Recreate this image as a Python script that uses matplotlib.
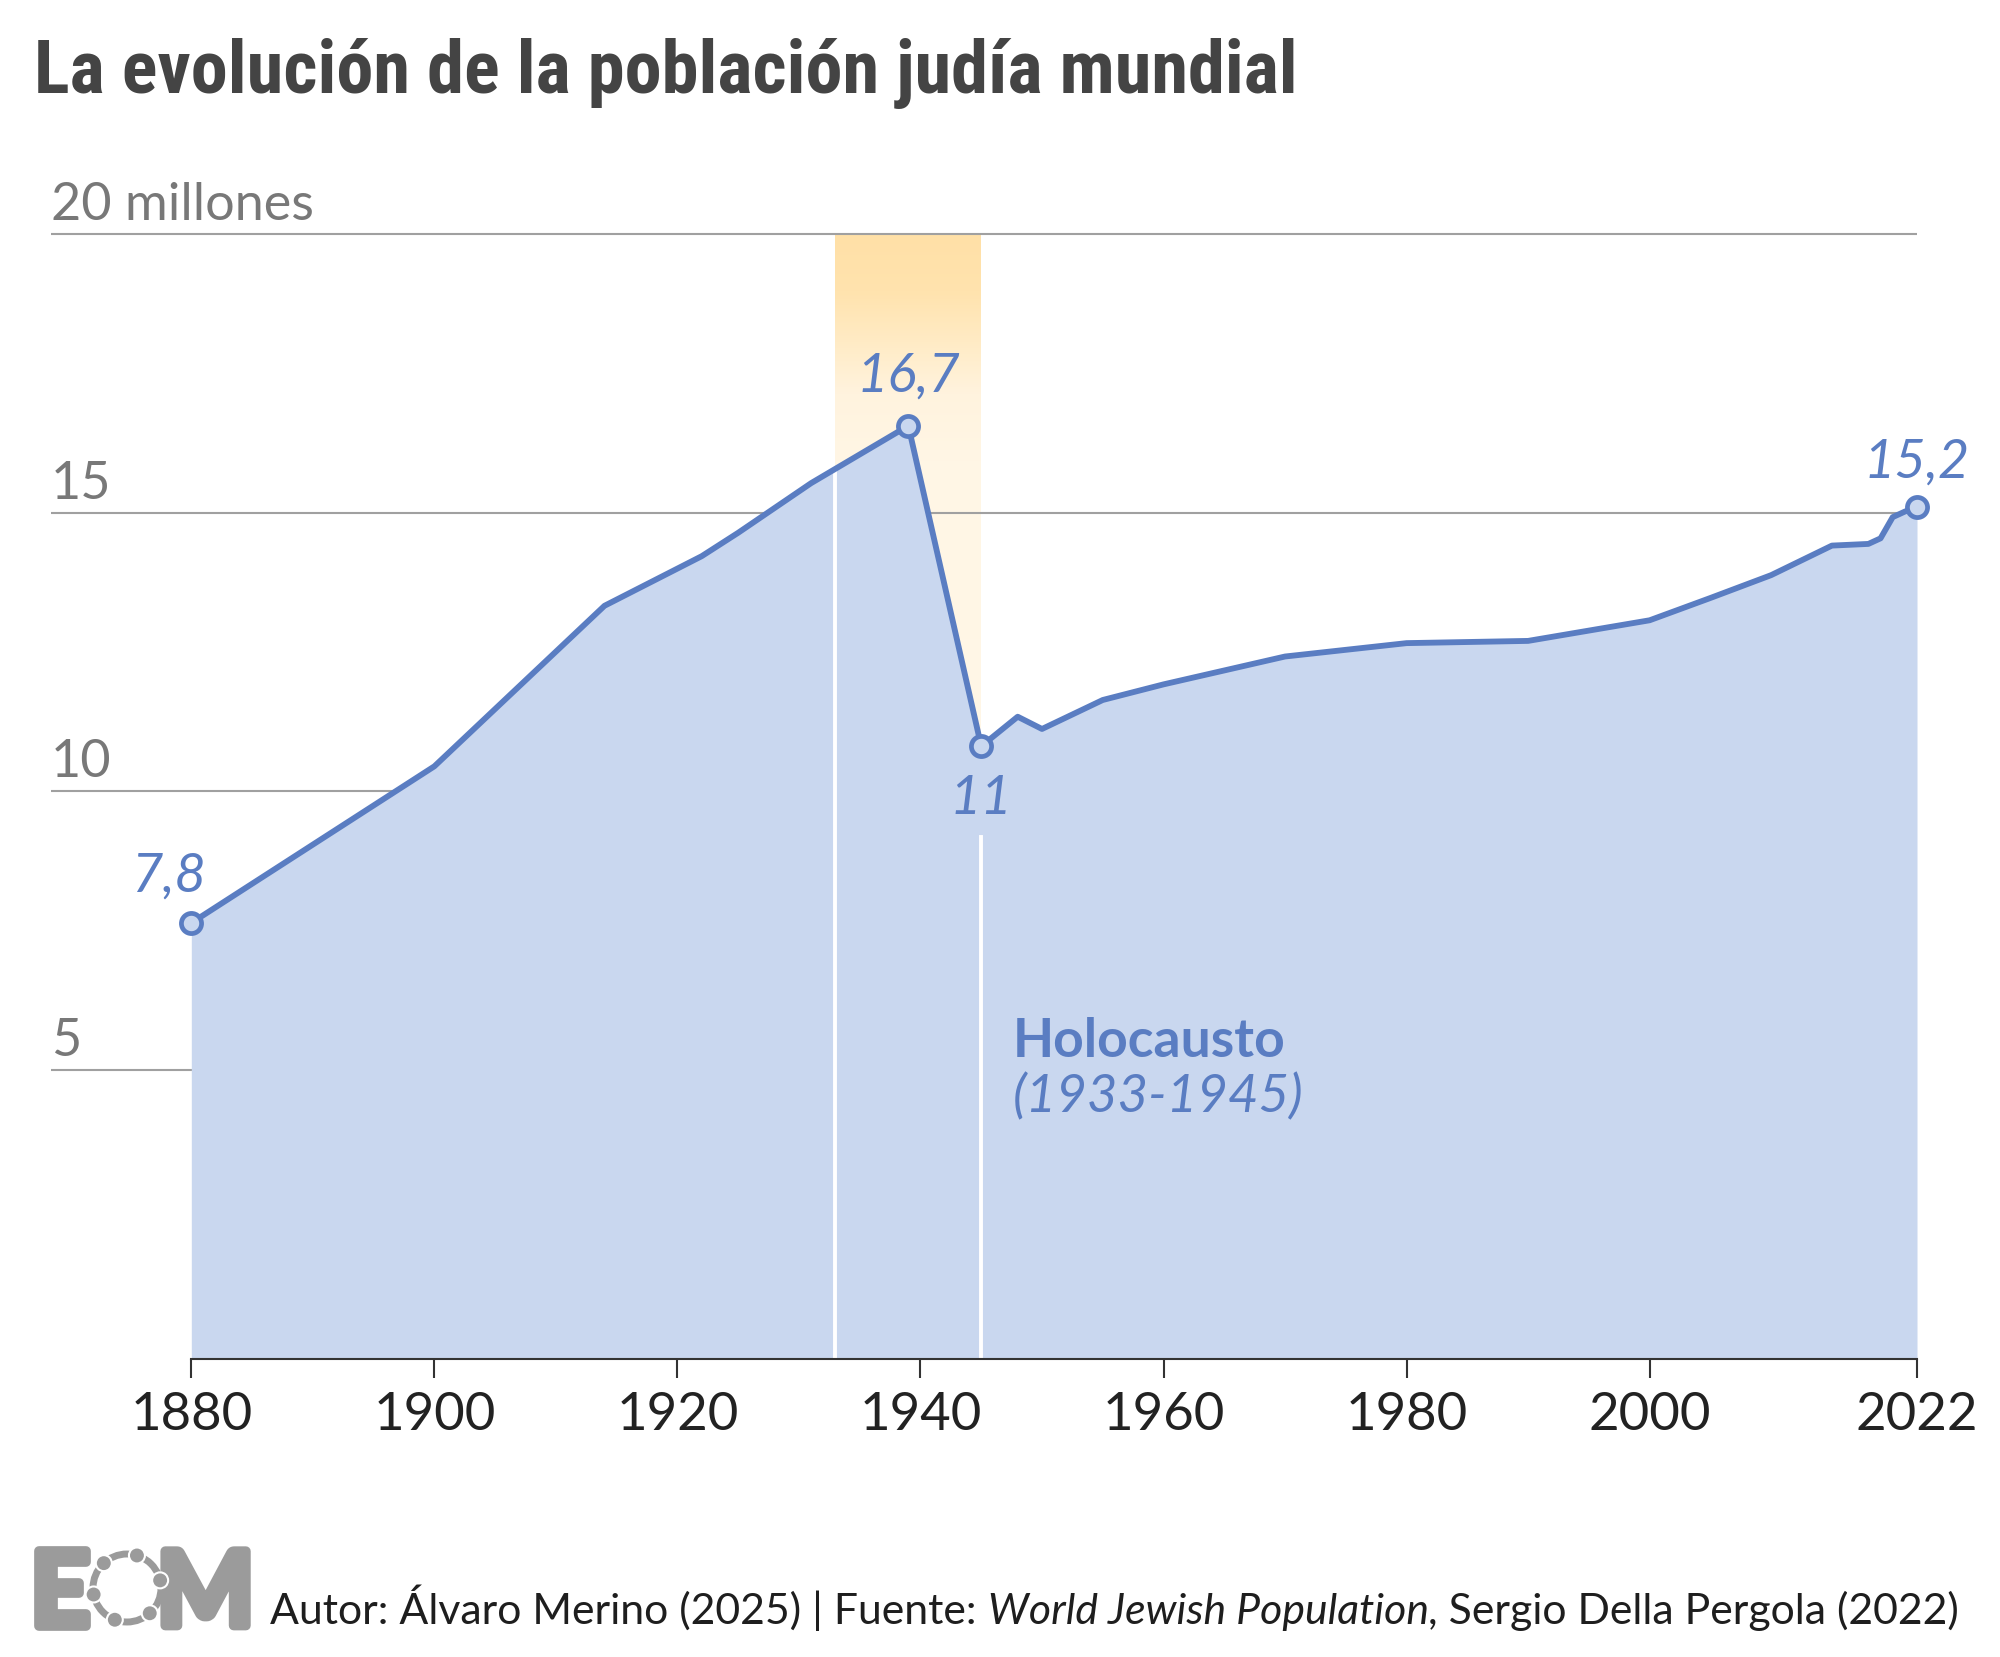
import matplotlib
matplotlib.use("Agg")
import matplotlib.pyplot as plt
import matplotlib.patheffects as pe
import numpy as np
from matplotlib import font_manager as fm
from matplotlib.colors import LinearSegmentedColormap
from matplotlib.patches import Circle

# ---------------- data ----------------
years = [1880, 1900, 1914, 1922, 1925, 1931, 1939, 1945, 1948, 1950, 1955, 1960,
         1970, 1980, 1990, 2000, 2005, 2010, 2015, 2018, 2019, 2020, 2021, 2022]
population = [7.64, 10.45, 13.33, 14.22, 14.64, 15.53, 16.56, 10.81, 11.34, 11.12,
              11.64, 11.92, 12.42, 12.66, 12.70, 13.07, 13.47, 13.88, 14.41, 14.44,
              14.54, 14.92, 15.02, 15.10]
highlight_years = [1880, 1939, 1945, 2022]
highlight_labels = ["7,8", "16,7", "11", "15,2"]
x_ticks = [1880, 1900, 1920, 1940, 1960, 1980, 2000, 2022]
y_grid = [5, 10, 15, 20]
y_grid_labels = ["5", "10", "15", "20 millones"]
holocaust_period = [1933, 1945]
title = "La evolución de la población judía mundial"
event_name = "Holocausto"
event_years = "(1933-1945)"
footer_parts = ["Autor: Álvaro Merino (2025) | Fuente: ",
                "World Jewish Population",
                ", Sergio Della Pergola (2022)"]
footer_styles = ["normal", "italic", "normal"]


def available(name):
    try:
        fm.findfont(fm.FontProperties(family=name), fallback_to_default=False)
        return True
    except Exception:
        return False


BASE = "Lato" if available("Lato") else "DejaVu Sans"
TITLE_FONT = next((f for f in ["Liberation Sans Narrow", "Roboto Condensed",
                               "Open Sans Condensed"] if available(f)), BASE)
plt.rcParams["font.family"] = [BASE, "DejaVu Sans"]

LINE = "#5A7DC2"
AREA = "#C9D7EF"
GRID = "#A0A0A0"
GRAYTXT = "#787878"
LOGO = "#9B9B9B"

W, H = 2000, 1657
fig = plt.figure(figsize=(W / 100, H / 100), dpi=100)
fig.patch.set_facecolor("white")

# axes in pixel layout
x0, x1 = 191.3, 1917.0
ytop, ybase = 234.0, 1359.0
ax = fig.add_axes([x0 / W, 1 - ybase / H, (x1 - x0) / W, (ybase - ytop) / H])
ybot = -0.183
ax.set_facecolor("none")

# Holocaust band with vertical gradient
cmap = LinearSegmentedColormap.from_list(
    "holo",
    [(0.0, "#FFF8EA"), (0.80, "#FFF6E5"), (0.86, "#FFF3DE"),
     (0.90, "#FFECC8"), (0.95, "#FFE3AE"), (1.0, "#FFE0A7")])
grad = np.linspace(0, 1, 512).reshape(-1, 1)
ax.imshow(grad, cmap=cmap, origin="lower", aspect="auto",
          extent=[holocaust_period[0], holocaust_period[1], ybot, 20],
          zorder=1, interpolation="bicubic")
ax.set_xlim(years[0], years[-1])
ax.set_ylim(ybot, 20)

# grid lines + labels
gx0 = (51 - x0) / (x1 - x0)
ytrans = ax.get_yaxis_transform()
for v, lab in zip(y_grid, y_grid_labels):
    ax.plot([gx0, 1], [v, v], transform=ytrans, color=GRID, lw=1.5,
            clip_on=False, zorder=2, solid_capstyle="butt")
    ax.text(gx0, v + 0.25, lab, transform=ytrans, fontsize=37.5, color=GRAYTXT,
            ha="left", va="baseline")

# area + line
ax.fill_between(years, population, ybot, color=AREA, lw=0, zorder=3)
ax.plot([holocaust_period[0]] * 2,
        [ybot, np.interp(holocaust_period[0], years, population)],
        color="white", lw=2.8, zorder=4)
ax.plot([holocaust_period[1]] * 2, [ybot, 9.19], color="white", lw=2.8, zorder=4)
ax.plot(years, population, color=LINE, lw=4.2, zorder=5,
        solid_joinstyle="round", solid_capstyle="round")

hl_vals = [population[years.index(y)] for y in highlight_years]
ax.plot(highlight_years, hl_vals, "o", ms=14.5, mfc=AREA, mec=LINE, mew=3.4,
        zorder=6, clip_on=False)

offsets = [(-16.5, 22.5), (0, 24.5), (0, -48.5), (0, 21.5)]
for yr, v, lab, off in zip(highlight_years, hl_vals, highlight_labels, offsets):
    ax.annotate(lab, (yr, v), xytext=off, textcoords="offset points",
                ha="center", va="baseline", fontsize=39, style="italic",
                color=LINE, zorder=7, annotation_clip=False)

ax.text(1947.6, 5.24, event_name, fontsize=38.5, fontweight="bold",
        color=LINE, ha="left", va="baseline", zorder=7)
ax.text(1947.6, 4.25, event_years, fontsize=38, style="italic",
        color=LINE, ha="left", va="baseline", zorder=7)

# axes styling
for s in ["left", "right", "top"]:
    ax.spines[s].set_visible(False)
ax.spines["bottom"].set_color("#333333")
ax.spines["bottom"].set_linewidth(1.5)
ax.spines["bottom"].set_zorder(8)
ax.set_yticks([])
ax.set_xticks(x_ticks)
ax.set_xticklabels([str(t) for t in x_ticks])
ax.tick_params(axis="x", length=13.7, width=1.5, color="#333333",
               labelsize=38, labelcolor="#222222", pad=10)

# ---------------- title & footer ----------------
fig.canvas.draw()
renderer = fig.canvas.get_renderer()

t = fig.text(34 / W, 1 - 93 / H, title, fontsize=50, fontweight="semibold",
             family=[TITLE_FONT, "DejaVu Sans"], color="#444444",
             ha="left", va="baseline")
w = t.get_window_extent(renderer).width
t.set_fontsize(50 * 1264 / w)


def adv(s, size, style):
    a = fig.text(0, 0, s + "I", fontsize=size, style=style)
    b = fig.text(0, 0, "I", fontsize=size, style=style)
    r = a.get_window_extent(renderer).width - b.get_window_extent(renderer).width
    a.remove()
    b.remove()
    return r


fsize = 31
total = sum(adv(p, fsize, st) for p, st in zip(footer_parts, footer_styles))
fsize = fsize * 1688 / total
xx = 270.0
for p, st in zip(footer_parts, footer_styles):
    fig.text(xx / W, 1 - 1624 / H, p, fontsize=fsize, style=st, color="#1E1E1E",
             ha="left", va="baseline")
    xx += adv(p, fsize, st)

# logo
lax = fig.add_axes([32 / W, 1 - 1628 / H, 224 / W, 80 / H])
lax.set_xlim(0, 224)
lax.set_ylim(0, 80)
lax.axis("off")
heavy = [pe.withStroke(linewidth=7, foreground=LOGO)]
lax.text(-1, 2.5, "E", fontsize=74, fontweight="bold", color=LOGO,
         ha="left", va="baseline", path_effects=heavy)
lax.text(222, 2.5, "M", fontsize=74, fontweight="bold", color=LOGO,
         ha="right", va="baseline", path_effects=heavy)
cx, cy, rr = 95, 40, 34
lax.add_patch(Circle((cx, cy), rr, fill=False, ec=LOGO, lw=5))
for ang in [13, 73, 133, 191, 249, 312]:
    a = np.deg2rad(ang)
    lax.add_patch(Circle((cx + rr * np.cos(a), cy + rr * np.sin(a)), 8,
                         fc=LOGO, ec="white", lw=1.5, zorder=3))

fig.savefig("out.png", dpi=100)
